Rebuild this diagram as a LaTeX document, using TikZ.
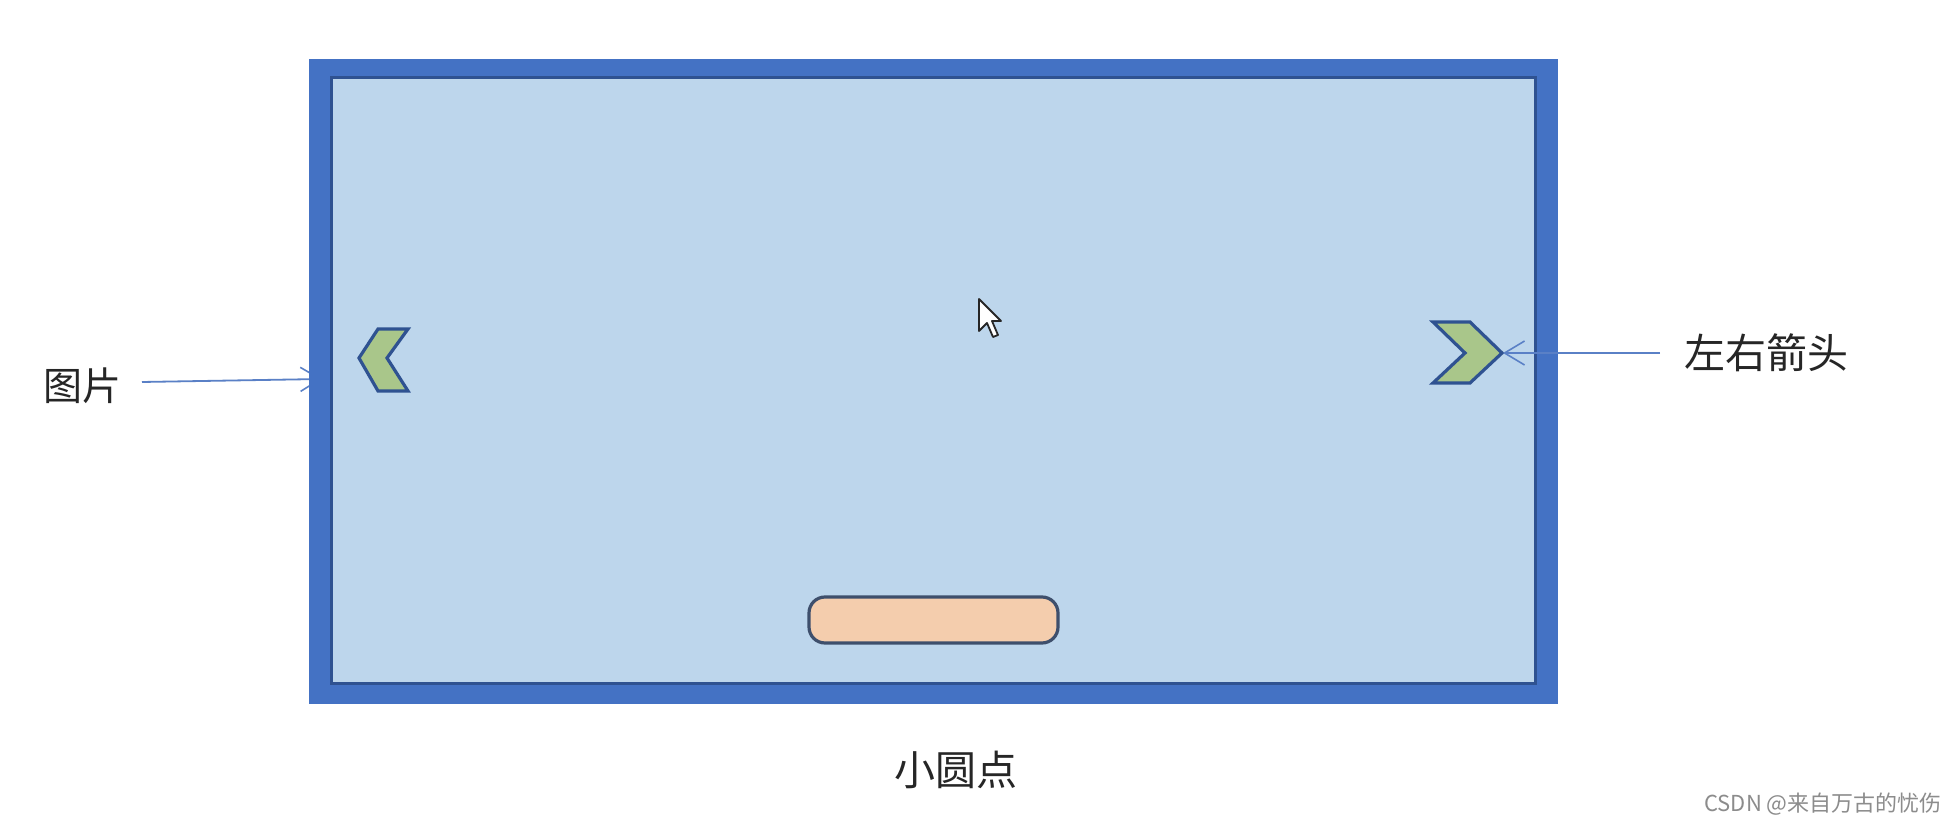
\documentclass[tikz,border=0pt]{standalone}
\usepackage{fontspec}
\newfontfamily\cjk{Noto Sans CJK SC}
\usetikzlibrary{arrows.meta}
\definecolor{frameblue}{HTML}{4472C4}
\definecolor{innerblue}{HTML}{BDD6EC}
\definecolor{navy}{HTML}{2F5291}
\definecolor{chevgreen}{HTML}{A9C68A}
\definecolor{peach}{HTML}{F4CDAD}
\definecolor{slate}{HTML}{3E4F6C}
\definecolor{arrowblue}{HTML}{5A80C6}
\definecolor{wmgray}{HTML}{8C8C8C}
\tikzset{
  lbl/.style={inner sep=0pt, anchor=center, text=black!85, font=\cjk\fontsize{20.5pt}{24pt}\selectfont},
  chev/.style={fill=chevgreen, draw=navy, line width=1.6pt, line join=miter},
  conn/.style={draw=arrowblue, line width=0.9pt, -{Straight Barb[length=10pt,width=12pt,line width=0.8pt]}},
}
\begin{document}
\begin{tikzpicture}[x=0.5pt,y=-0.5pt]
\useasboundingbox (0,0) rectangle (1944,822);
\fill[white] (0,0) rectangle (1944,822);

% left connector (drawn below the frame so its tip hides under the border)
\coordinate (ta) at (142,382);
\coordinate (lt) at (322,379);
\draw[conn] (ta) -- (lt);

% frame
\fill[frameblue] (309,59) rectangle (1558,704);
\draw[fill=innerblue, draw=navy, line width=1.5pt] (331.5,77.5) rectangle (1535.5,683.5);

% left chevron
\draw[chev] (359,358) -- (378,329) -- (408,329) -- (387,358) -- (408,391) -- (378,391) -- cycle;
% right chevron
\coordinate (rtip) at (1503,353);
\draw[chev] (1433,322) -- (1470,322) -- (1502,353) -- (1470,383) -- (1433,383) -- (1465,353) -- cycle;

% dots bar
\draw[fill=peach, draw=slate, line width=1.6pt, rounded corners=8pt] (809,597) rectangle (1058,643);

% mouse cursor
\draw[fill=white, draw=black!85, line width=0.9pt, line join=round]
  (979,299) -- (979,331) -- (987,323) -- (993,337) -- (998,335) -- (992,321) -- (1001,321) -- cycle;

% labels
\node[lbl, font=\cjk\fontsize{19.5pt}{24pt}\selectfont] (tp) at (82,386) {图片};
\node[lbl] (lr) at (1766,353) {左右箭头};
\node[lbl] (xd) at (956,770) {小圆点};
\node[inner sep=0pt, text=wmgray, font=\cjk\fontsize{11pt}{13pt}\selectfont] (wm) at (1823,804) {CSDN @来自万古的忧伤};

% right connector
\coordinate (ra) at (1660,353);
\draw[conn] (ra) -- (rtip);
\end{tikzpicture}
\end{document}
